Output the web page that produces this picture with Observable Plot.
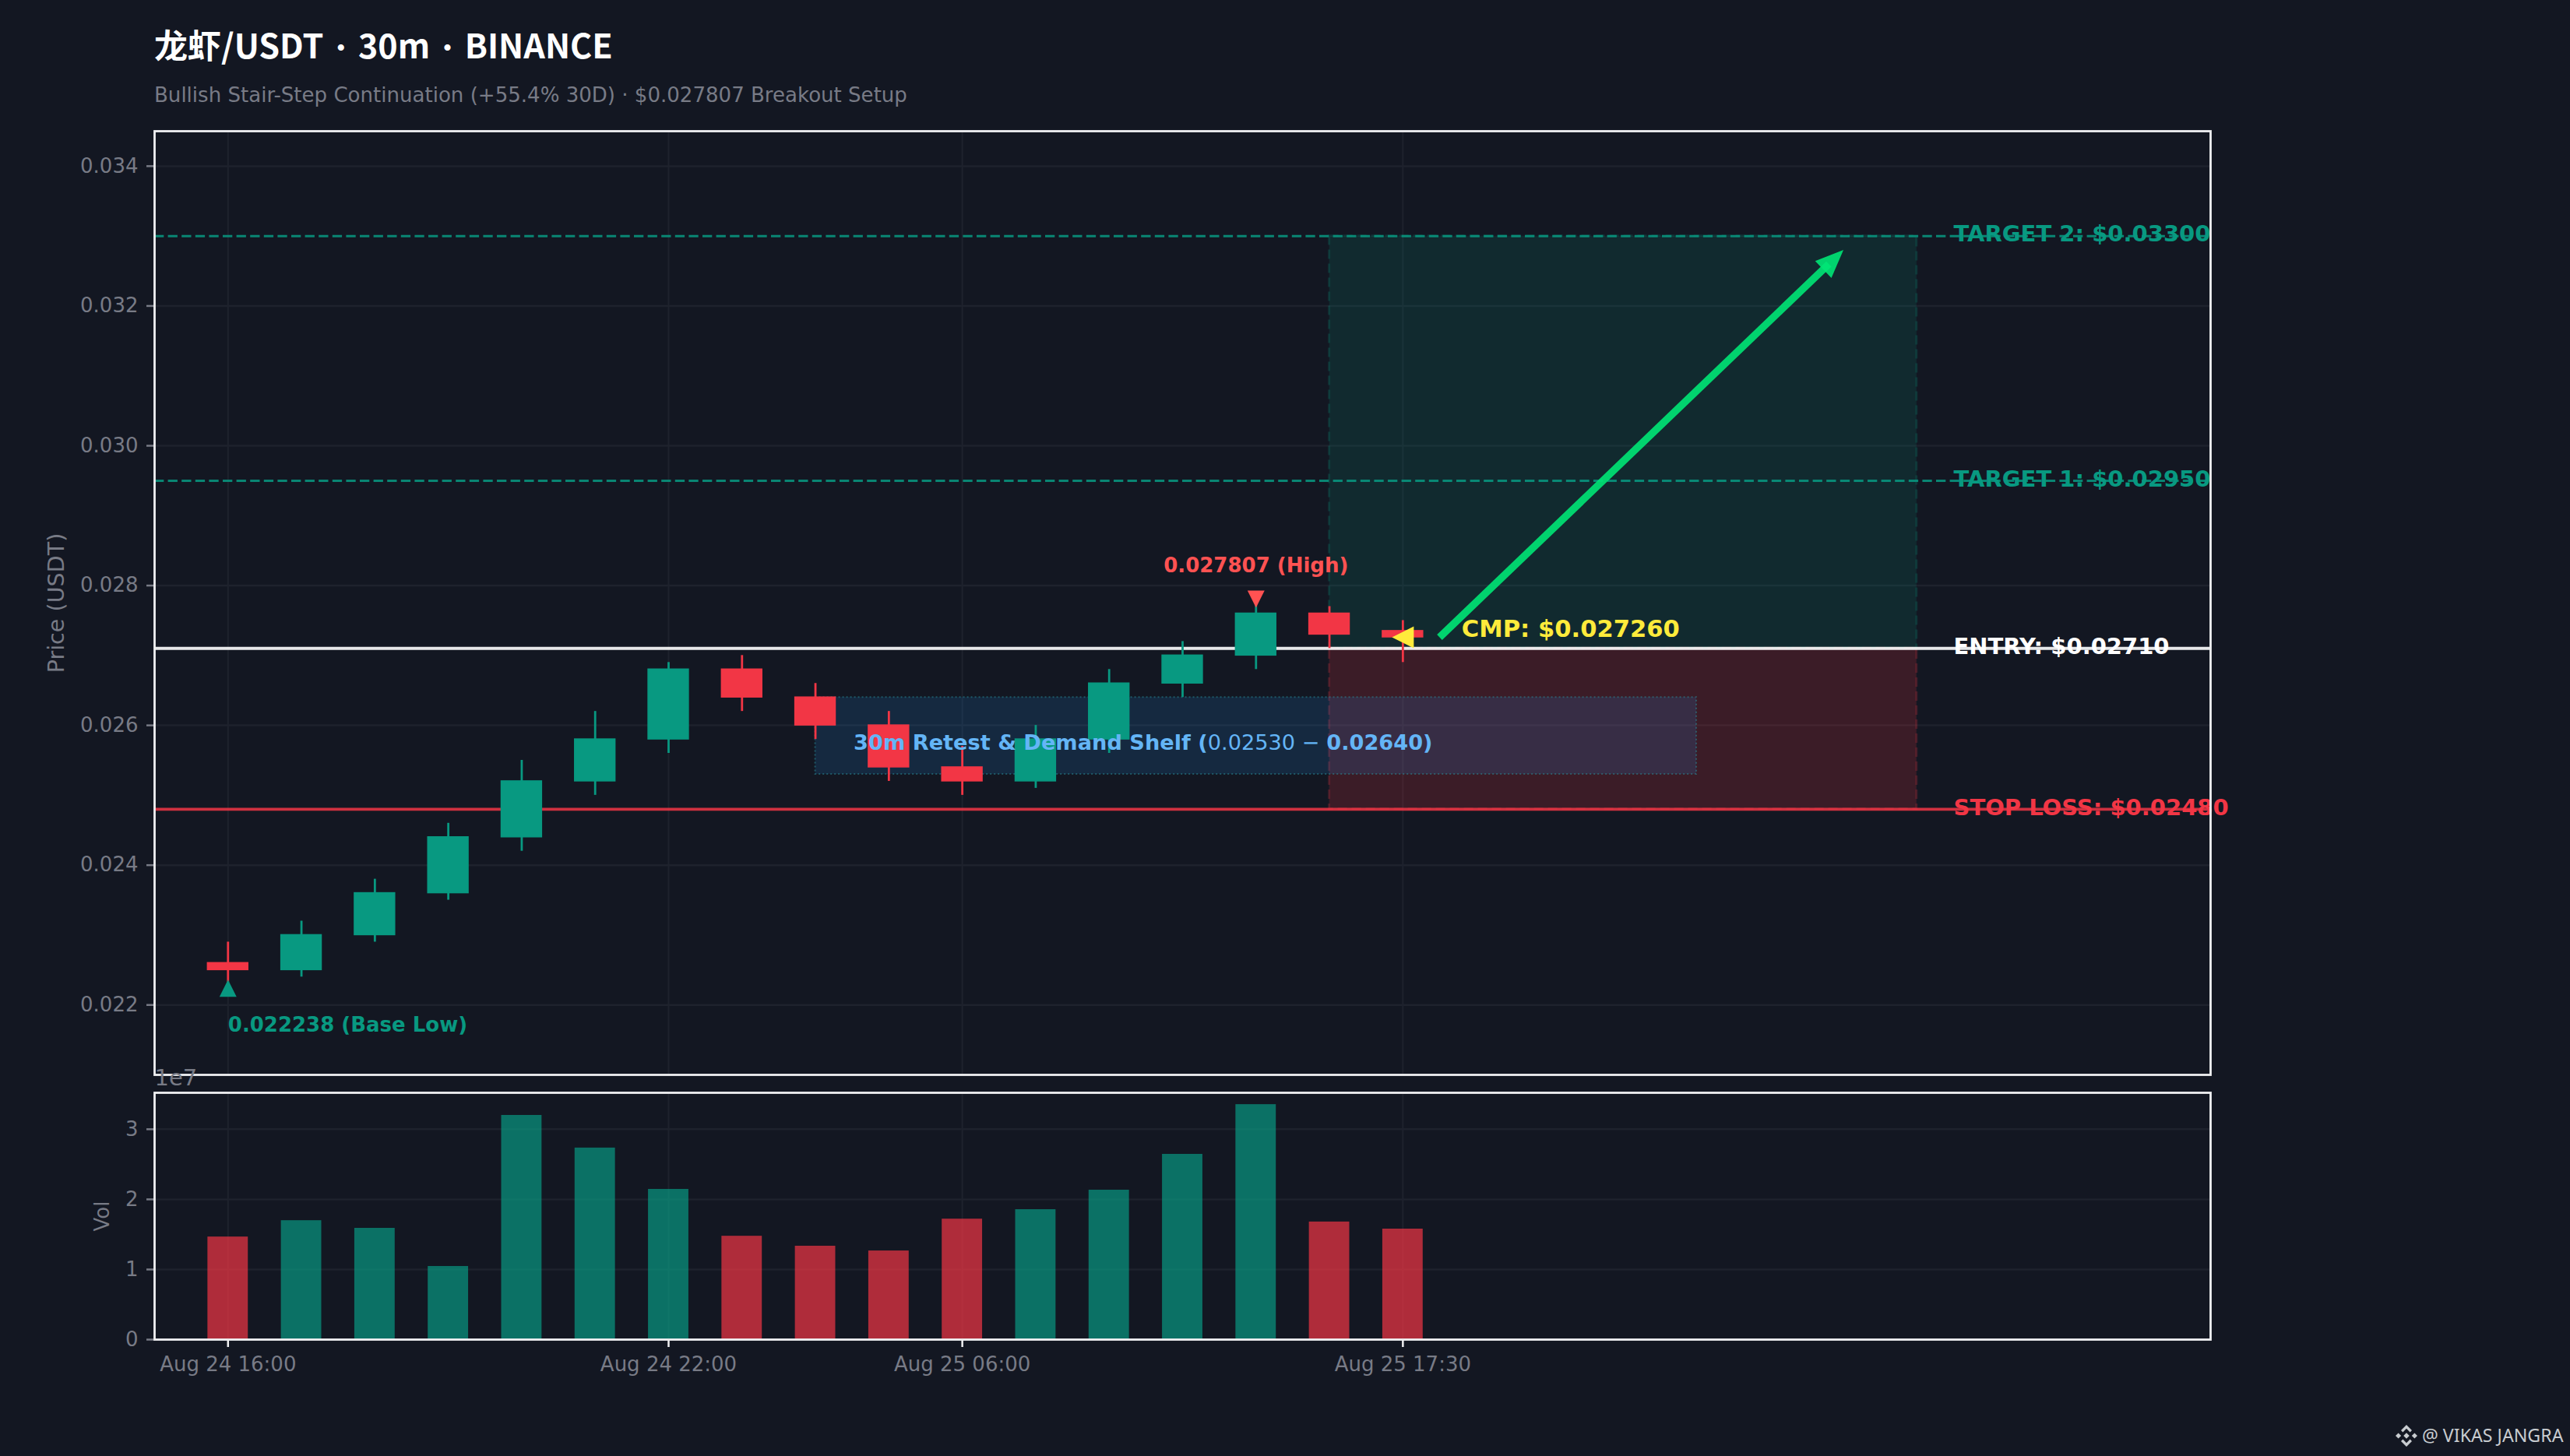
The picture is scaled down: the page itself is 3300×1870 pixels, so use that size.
<!DOCTYPE html>
<html>
<head>
<meta charset="utf-8">
<script src="https://cdn.jsdelivr.net/npm/d3@7"></script>
<script src="https://cdn.jsdelivr.net/npm/@observablehq/plot@0.6"></script>
<style>
html,body{margin:0;padding:0;background:#131722;width:3300px;height:1870px;overflow:hidden}
#page{position:relative;width:3300px;height:1870px;background:#131722}
#page>div,#page>svg{position:absolute}
#t{left:198px;top:26px;font:700 43px "Noto Sans CJK SC","Noto Sans",sans-serif;color:#fff;line-height:60px;white-space:nowrap;word-spacing:-6.5px}
#t span{font-weight:400;font-size:38px}
#s{left:198px;top:104px;font:400 26.05px "DejaVu Sans",sans-serif;color:#787b86;line-height:36px;white-space:nowrap}
#w{left:3110px;top:1826px;font:400 23.2px "Noto Sans",sans-serif;color:#c8ccd0;line-height:34px;white-space:nowrap}
#main,#vol{left:0}
#main{top:0}
#vol{top:1340px}
</style>
</head>
<body>
<div id="page">
<div id="main"></div>
<div id="vol"></div>
<div id="t">龙虾/USDT <span>·</span> 30m <span>·</span> BINANCE</div>
<div id="s">Bullish Stair-Step Continuation (+55.4% 30D) · $0.027807 Breakout Setup</div>
<svg style="left:3076px;top:1830px" width="28" height="28" viewBox="0 0 28 28" fill="#c8ccd0">
<path d="M14 0l7 7-2.4 2.4L14 4.8 9.4 9.4 7 7zM14 28l-7-7 2.4-2.4 4.6 4.6 4.6-4.6L21 21zM14 10.2l3.8 3.8-3.8 3.8-3.8-3.8zM3.6 10.4L7.2 14l-3.6 3.6L0 14zM24.4 10.4L28 14l-3.6 3.6L20.8 14z"/>
</svg>
<div id="w">@ VIKAS JANGRA</div>
</div>
<script>
const open  = [0.0226,0.0225,0.0230,0.0236,0.0244,0.0252,0.0258,0.0268,0.0264,0.0260,0.0254,0.0252,0.0258,0.0266,0.0270,0.0276,0.02735];
const close = [0.0225,0.0230,0.0236,0.0244,0.0252,0.0258,0.0268,0.0264,0.0260,0.0254,0.0252,0.0258,0.0266,0.0270,0.0276,0.0273,0.02726];
const high  = [0.0229,0.0232,0.0238,0.0246,0.0255,0.0262,0.0269,0.0270,0.0266,0.0262,0.0257,0.0260,0.0268,0.0272,0.027807,0.0277,0.0275];
const low   = [0.022238,0.0224,0.0229,0.0235,0.0242,0.0250,0.0256,0.0262,0.0258,0.0252,0.0250,0.0251,0.0256,0.0264,0.0268,0.0271,0.0269];
const volume= [1.464e7,1.697e7,1.588e7,1.044e7,3.198e7,2.733e7,2.143e7,1.475e7,1.333e7,1.265e7,1.719e7,1.854e7,2.132e7,2.643e7,3.352e7,1.678e7,1.577e7];
const tickIndex = [0,6,10,16];
const tickLabels = ["Aug 24 16:00","Aug 24 22:00","Aug 25 06:00","Aug 25 17:30"];
const priceTicks = [0.022,0.024,0.026,0.028,0.030,0.032,0.034];
const volTicks = [0,1e7,2e7,3e7];
const target1=0.0295,target2=0.033,entry=0.0271,stop=0.0248,cmp=0.02726,baseLow=0.022238,topHigh=0.027807;
const arrowFrom=[16.5,0.02726],arrowTo=[22,0.0328];
const shelf={x1:8,x2:20,y1:0.0253,y2:0.0264};
const greenZone={x1:15,x2:23,y1:0.0271,y2:0.033};
const redZone={x1:15,x2:23,y1:0.0248,y2:0.0271};
const levelLabels=[
 {t:"TARGET 2: $0.03300",y:target2,c:"#089981"},
 {t:"TARGET 1: $0.02950",y:target1,c:"#089981"},
 {t:"ENTRY: $0.02710",y:entry,c:"#ffffff"},
 {t:"STOP LOSS: $0.02480",y:stop,c:"#f23645"}];

const GREEN="#089981",RED="#f23645",GREY="#787b86",GRID="#1e222d",SPINE="#f0f0f2";
const candles=open.map((o,i)=>({i,o,c:close[i],h:high[i],l:low[i],v:volume[i],col:close[i]>=o?GREEN:RED}));
const HW=0.275,xDomain=[-1,27];
const base={width:3300,marginLeft:198,marginRight:462,x:{domain:xDomain,axis:null},
  style:{background:"transparent",fontFamily:"'DejaVu Sans',sans-serif",overflow:"visible"}};

const sym=(pts)=>({draw(ctx,size){const r=Math.sqrt(size/Math.PI);pts.forEach((p,k)=>k?ctx.lineTo(p[0]*r,p[1]*r):ctx.moveTo(p[0]*r,p[1]*r));ctx.closePath();}});
const triUp=sym([[0,-1],[1,1],[-1,1]]),triDown=sym([[0,1],[1,-1],[-1,-1]]),triLeft=sym([[-1,0],[1,-1],[1,1]]);
const head=sym([[0,0],[1,2.4],[-1,2.4]]);

const FS=26,SHELF_FS=27.2;
const mctx=document.createElement("canvas").getContext("2d");
const measure=(s,w)=>{mctx.font=`${w} ${SHELF_FS}px "DejaVu Sans"`;return mctx.measureText(s).width;};
const seg=[["30m Retest & Demand Shelf (","bold"],["0.02530 − ","normal"],["0.02640)","bold"]];
let acc=0;const segs=seg.map(([t,w])=>{const r={t,w,dx:acc};acc+=measure(t,w);return r;});

const main=Plot.plot({...base,height:1400,marginTop:168,marginBottom:20,
 y:{domain:[0.021,0.0345],axis:null},
 marks:[
  Plot.gridY(priceTicks,{stroke:GRID,strokeOpacity:1,strokeWidth:2.5}),
  Plot.gridX(tickIndex,{stroke:GRID,strokeOpacity:1,strokeWidth:2}),
  Plot.axisY(priceTicks,{anchor:"left",label:null,tickSize:10,tickPadding:11,stroke:GREY,fill:GREY,strokeWidth:2.5,fontSize:26,tickFormat:d3.format(".3f")}),
  Plot.text(["Price (USDT)"],{frameAnchor:"left",dx:-126,rotate:-90,textAnchor:"middle",text:d=>d,fill:GREY,fontSize:28.6}),
  Plot.rect([greenZone],{x1:"x1",x2:"x2",y1:"y1",y2:"y2",fill:GREEN,fillOpacity:0.15,stroke:GREEN,strokeOpacity:0.2,strokeWidth:3,strokeDasharray:"12,6"}),
  Plot.rect([redZone],{x1:"x1",x2:"x2",y1:"y1",y2:"y2",fill:RED,fillOpacity:0.18,stroke:RED,strokeOpacity:0.2,strokeWidth:3,strokeDasharray:"12,6"}),
  Plot.rect([shelf],{x1:"x1",x2:"x2",y1:"y1",y2:"y2",fill:"#2196f3",fillOpacity:0.15,stroke:"#2a8f9b",strokeOpacity:0.5,strokeWidth:2,strokeDasharray:"2,3"}),
  Plot.ruleY([target2,target1],{stroke:GREEN,strokeOpacity:0.85,strokeWidth:3,strokeDasharray:"12.3,5.3"}),
  Plot.ruleY([entry],{stroke:"#ffffff",strokeOpacity:0.9,strokeWidth:4}),
  Plot.ruleY([stop],{stroke:RED,strokeOpacity:0.85,strokeWidth:3.8}),
  Plot.ruleX(candles,{x:"i",y1:"l",y2:"h",stroke:"col",strokeWidth:2.8}),
  Plot.rect(candles,{x1:d=>d.i-HW,x2:d=>d.i+HW,y1:"o",y2:"c",fill:"col",stroke:"col",strokeWidth:1.5}),
  Plot.dot([{x:0,y:baseLow}],{x:"x",y:"y",symbol:triUp,r:11,fill:GREEN,stroke:"none"}),
  Plot.dot([{x:14,y:topHigh}],{x:"x",y:"y",symbol:triDown,r:11,fill:"#ff5252",stroke:"none"}),
  Plot.dot([{x:16,y:cmp}],{x:"x",y:"y",symbol:triLeft,r:14,fill:"#ffeb3b",stroke:"none"}),
  Plot.text([{x:0,y:0.02171,t:"0.022238 (Base Low)"}],{x:"x",y:"y",text:"t",textAnchor:"start",fill:GREEN,fontSize:FS,fontWeight:"bold"}),
  Plot.text([{x:14,y:0.02828,t:"0.027807 (High)"}],{x:"x",y:"y",text:"t",fill:"#ff5252",fontSize:FS,fontWeight:"bold"}),
  Plot.text([{x:16.8,y:0.02738,t:"CMP: $0.027260"}],{x:"x",y:"y",text:"t",textAnchor:"start",fill:"#ffeb3b",fontSize:30.6,fontWeight:"bold"}),
  ...segs.map(s=>Plot.text([{x:8.52,y:0.02575,t:s.t}],{x:"x",y:"y",text:"t",textAnchor:"start",dx:s.dx,fill:"#64b5f6",fontSize:SHELF_FS,fontWeight:s.w})),
  Plot.text(levelLabels,{x:()=>23.5,y:"y",text:"t",textAnchor:"start",dy:-2,fill:"c",fontSize:29,fontWeight:"bold"}),
  Plot.arrow([{a:arrowFrom,b:arrowTo}],{x1:d=>d.a[0],y1:d=>d.a[1],x2:d=>d.b[0],y2:d=>d.b[1],stroke:"#00e676",strokeOpacity:0.9,strokeWidth:9.5,headLength:0,insetEnd:26,strokeLinecap:"butt"}),
  Plot.dot([{x:arrowTo[0],y:arrowTo[1]}],{x:"x",y:"y",symbol:head,r:15,rotate:46,fill:"#00e676",fillOpacity:0.9,stroke:"none"}),
  Plot.frame({stroke:SPINE,strokeWidth:2.8})
 ]});
document.getElementById("main").appendChild(main);

const vol=Plot.plot({...base,height:530,marginTop:63,marginBottom:150,
 y:{domain:[0,3.52e7],axis:null},
 marks:[
  Plot.gridY(volTicks,{stroke:GRID,strokeOpacity:1,strokeWidth:2.5}),
  Plot.gridX(tickIndex,{stroke:GRID,strokeOpacity:1,strokeWidth:2}),
  Plot.rectY(candles,{x1:d=>d.i-HW,x2:d=>d.i+HW,y:"v",fill:"col",fillOpacity:0.7}),
  Plot.axisY(volTicks,{anchor:"left",label:null,tickSize:10,tickPadding:11,stroke:GREY,fill:GREY,strokeWidth:2.5,fontSize:26,tickFormat:d=>d/1e7}),
  Plot.axisX(tickIndex,{anchor:"bottom",label:null,tickSize:10,tickPadding:12,stroke:SPINE,fill:GREY,strokeWidth:2.5,fontSize:26,tickFormat:(d)=>tickLabels[tickIndex.indexOf(d)]}),
  Plot.text(["Vol"],{frameAnchor:"left",dx:-67,rotate:-90,textAnchor:"middle",text:d=>d,fill:GREY,fontSize:26}),
  Plot.text(["1e7"],{frameAnchor:"top-left",dy:-10,textAnchor:"start",lineAnchor:"bottom",text:d=>d,fill:GREY,fontSize:29}),
  Plot.frame({stroke:SPINE,strokeWidth:2.8})
 ]});
document.getElementById("vol").appendChild(vol);
</script>
</body>
</html>
